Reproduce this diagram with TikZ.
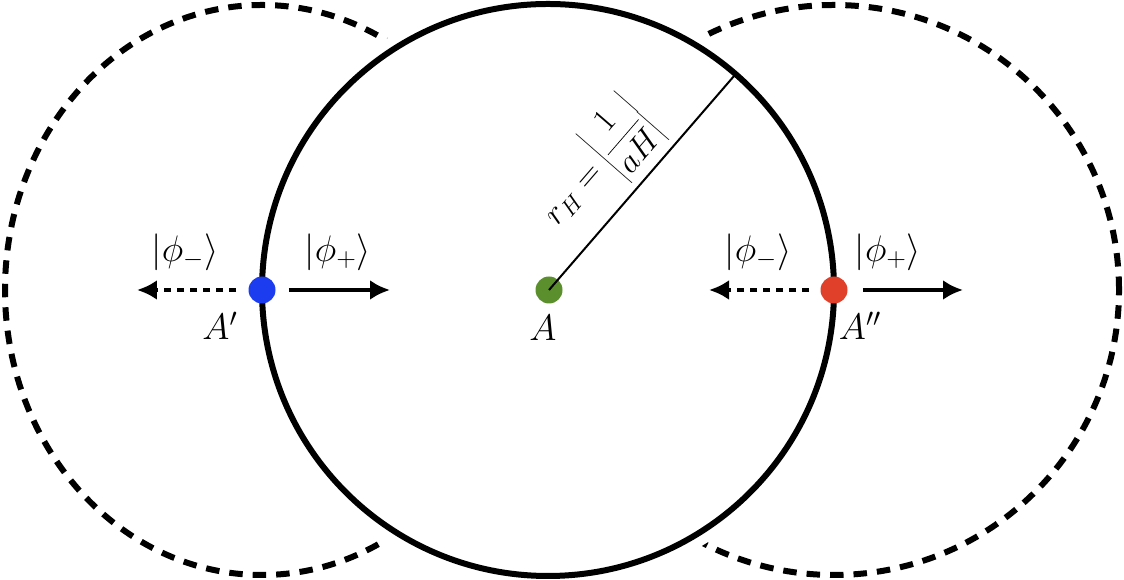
\RequirePackage{fix-cm}
\documentclass[tikz,border=0pt]{standalone}
\usepackage{xcolor}
\usepackage{tikz}
\usetikzlibrary{positioning, arrows.meta, calc}
\definecolor{dotblue}{HTML}{1C3CF0}
\definecolor{dotred}{HTML}{E0402A}
\definecolor{dotgreen}{HTML}{5B8E2D}

\begin{document}
\begin{tikzpicture}[x=0.02cm, y=0.02cm, font=\fontsize{21}{25}\selectfont,
    horizon/.style={line width=0.12cm},
    ghost/.style={line width=0.12cm, dash pattern=on 0.27cm off 0.2cm},
    point/.style={circle, inner sep=0pt, minimum size=0.54cm},
    plusarrow/.style={-{Latex[length=0.4cm, width=0.4cm]}, line width=0.08cm},
    minusarrow/.style={plusarrow, dash pattern=on 0.14cm off 0.12cm}]
  \useasboundingbox (0,0) rectangle (1124,580);
  % neighbouring horizons
  \draw[ghost] (262,290) ellipse [x radius=257, y radius=285];
  \draw[ghost] (834,290) circle [radius=285];
  \draw[white, line width=0.5cm, fill=white] (548,290) circle [radius=286];
  \draw[horizon] (548,290) circle [radius=286];
  \coordinate (rim) at ($(548,290)+(49:284)$);
  % points
  \node[point, fill=dotgreen] (pA) at (549,290) {};
  \node[point, fill=dotblue] (pA1) at (262,290) {};
  \node[point, fill=dotred] (pA2) at (834,290) {};
  \draw[line width=0.04cm] (pA.center) -- (rim)
    node[pos=0.44, sloped, above, font=\fontsize{19}{23}\selectfont]
    {$r_H = \left|{\displaystyle\frac{1}{aH}}\right|$};
  \node at (543,252) {$A$};
  \node at (220,254) {$A'$};
  \node at (860,254) {$A''$};
  % modes
  \coordinate (lminus) at (137,290);
  \coordinate (lplus) at (390,290);
  \coordinate (rminus) at (709,290);
  \coordinate (rplus) at (963,290);
  \draw[minusarrow, shorten <=0.24cm] (pA1.west) -- (lminus);
  \draw[plusarrow, shorten <=0.26cm] (pA1.east) -- (lplus);
  \draw[minusarrow, shorten <=0.22cm] (pA2.west) -- (rminus);
  \draw[plusarrow, shorten <=0.3cm] (pA2.east) -- (rplus);
  \node at (185,328) {$|\phi_-\rangle$};
  \node at (338,328) {$|\phi_+\rangle$};
  \node at (758,328) {$|\phi_-\rangle$};
  \node at (888,328) {$|\phi_+\rangle$};
\end{tikzpicture}
\end{document}
